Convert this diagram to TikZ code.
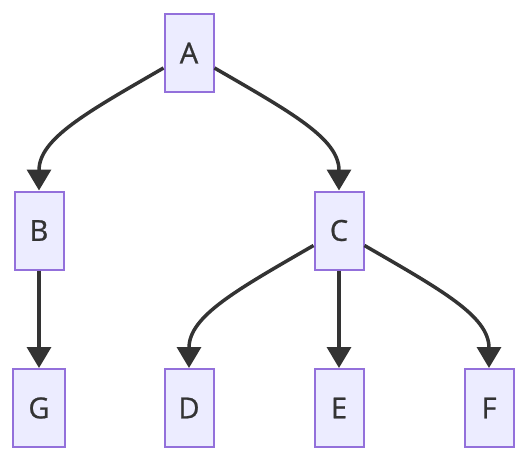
\documentclass[tikz,border=0pt]{standalone}
\usepackage{fontspec}
\setmainfont{Open Sans}[FakeBold=0.8]
\usetikzlibrary{positioning, arrows.meta}

\definecolor{boxfill}{HTML}{ECECFF}
\definecolor{boxline}{HTML}{9370DB}
\definecolor{edgeline}{HTML}{333333}

\tikzset{
  box/.style={draw=boxline, fill=boxfill, line width=2pt,
    minimum width=49pt, minimum height=78pt, inner sep=0pt,
    text=edgeline, font=\fontsize{29}{34}\selectfont},
  link/.style={draw=edgeline, line width=3.5pt,
    -{Triangle[length=21pt,width=24pt]}}
}

\begin{document}
\begin{tikzpicture}[x=1pt, y=-1pt, on grid, node distance=177.5pt and 150pt]
\useasboundingbox (0,0) rectangle (526,474);
\node[box] (a) at (189,53) {A};
\node[box, below left=of a] (b) {B};
\node[box, below right=of a] (c) {C};
\node[box, below=of b, minimum width=52pt] (g) {G};
\node[box, below left=of c] (d) {D};
\node[box, below=of c] (e) {E};
\node[box, below right=of c] (f) {F};

\draw[link] ([yshift=-15pt]a.west) .. controls +(-76pt,-44pt) and +(0,52pt) .. (b.north);
\draw[link] ([yshift=-15pt]a.east) .. controls +(76pt,-44pt) and +(0,52pt) .. (c.north);
\draw[link] (b) -- (g);
\draw[link] ([yshift=-15pt]c.west) .. controls +(-76pt,-44pt) and +(0,52pt) .. (d.north);
\draw[link] (c) -- (e);
\draw[link] ([yshift=-15pt]c.east) .. controls +(76pt,-44pt) and +(0,52pt) .. (f.north);
\end{tikzpicture}
\end{document}
